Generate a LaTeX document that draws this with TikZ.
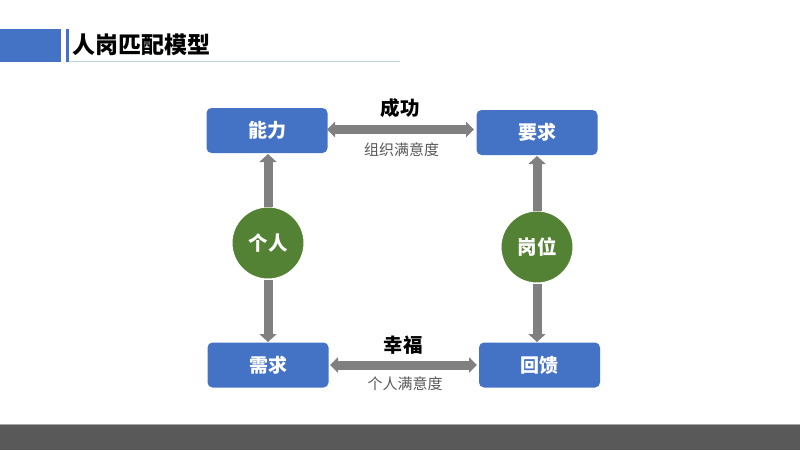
\documentclass[tikz,border=0pt]{standalone}
\usepackage{fontspec}
\setmainfont{Noto Sans CJK SC}
\usetikzlibrary{arrows.meta}
\definecolor{boxblue}{HTML}{4472C4}
\definecolor{circgreen}{HTML}{548235}
\definecolor{arrgray}{HTML}{808080}
\definecolor{bargray}{HTML}{595959}
\definecolor{subgray}{HTML}{595959}
\begin{document}
\begin{tikzpicture}[x=1pt,y=-1pt,
  bluebox/.style={fill=boxblue, rounded corners=5pt, minimum width=121pt, minimum height=45pt, text=white, font=\fontsize{19}{21}\selectfont\bfseries, inner sep=0pt},
  greencirc/.style={circle, fill=circgreen, draw=white, line width=1pt, minimum size=72pt, text=white, font=\fontsize{19.5}{21}\selectfont\bfseries, inner sep=0pt},
  bigarrow/.style={draw=arrgray, line width=9pt, -{Triangle[length=8pt,width=17pt]}},
  dblarrow/.style={draw=arrgray, line width=9pt, {Triangle[length=8pt,width=15pt]}-{Triangle[length=8pt,width=15pt]}},
  toplabel/.style={font=\fontsize{19.5}{21}\selectfont\bfseries, text=black, inner sep=0pt},
  sublabel/.style={font=\fontsize{15}{17}\selectfont, text=subgray, inner sep=0pt}
]
\useasboundingbox (0,0) rectangle (800,450);
\fill[white] (0,0) rectangle (800,450);
% header
\fill[boxblue] (0,29) rectangle (61,62);
\fill[boxblue] (66,29) rectangle (69,62);
\draw[color={rgb,255:red,190;green,215;blue,215}, line width=1pt] (69,61.5) -- (400,61.5);
\node[anchor=west, font=\fontsize{23}{25}\selectfont\bfseries, inner sep=0pt] (title) at (72,44.5) {人岗匹配模型};
% bottom bar
\fill[bargray] (0,424) rectangle (800,450);
\draw[color=gray!70, line width=0.6pt] (0,424) -- (800,424);
% boxes
\node[bluebox] (nl) at (267,130.5) {能力};
\node[bluebox] (yq) at (537,132.5) {要求};
\node[bluebox] (xq) at (268,365) {需求};
\node[bluebox] (hk) at (539.5,365) {回馈};
% circles
\node[greencirc] (gr) at (268,243) {个人};
\node[greencirc] (gw) at (537,247) {岗位};
% vertical arrows
\draw[bigarrow] (gr.north) -- (268,154);
\draw[bigarrow] (gr.south) -- (268,342);
\draw[bigarrow] (gw.north) -- (537,156);
\draw[bigarrow] (gw.south) -- (537,342);
% horizontal arrows
\draw[dblarrow] (327,129.5) -- (474,129.5);
\draw[dblarrow] (330,365) -- (477,365);
% labels
\node[toplabel] (cg) at (400,108.5) {成功};
\node[sublabel] (zz) at (401.5,149.5) {组织满意度};
\node[toplabel] (xf) at (403,345) {幸福};
\node[sublabel] (gm) at (405,384) {个人满意度};
\end{tikzpicture}
\end{document}
